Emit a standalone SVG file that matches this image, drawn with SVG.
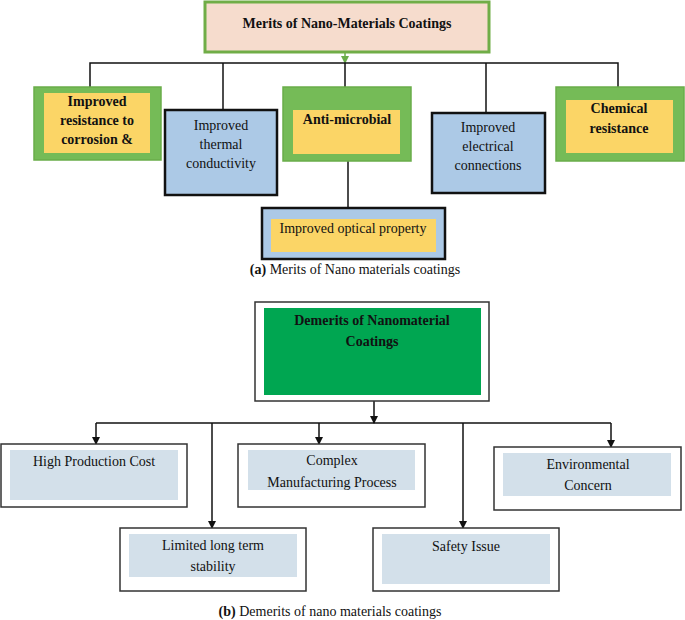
<svg xmlns="http://www.w3.org/2000/svg" width="685" height="620" viewBox="0 0 685 620">
<style>
text{font-family:"Liberation Serif","Times New Roman",serif;font-size:14px;fill:#111;text-anchor:middle}
.b{font-weight:bold}
.gout{fill:#75bb57;stroke:#6aad4a;stroke-width:1.5}
.yel{fill:#fbd566}
.blue{fill:#acc9e6;stroke:#111;stroke-width:2.5}
.wbox{fill:#fff;stroke:#333;stroke-width:1.5}
.lb{fill:#d3e0ea}
.ln{stroke:#111;stroke-width:1.5;fill:none}
</style>
<defs>
<marker id="ar" markerWidth="8" markerHeight="8" refX="7" refY="4" orient="auto" markerUnits="userSpaceOnUse"><path d="M0,0 L8,4 L0,8 z" fill="#111"/></marker>
<marker id="ag" markerWidth="8" markerHeight="8" refX="7" refY="4" orient="auto" markerUnits="userSpaceOnUse"><path d="M0,0 L8,4 L0,8 z" fill="#6aad4a"/></marker>
</defs>
<rect width="685" height="620" fill="#fff"/>
<g id="connectors">
<line x1="345" y1="52" x2="345" y2="63" stroke="#6aad4a" stroke-width="1.5" marker-end="url(#ag)"/>
<polyline class="ln" points="90,88 90,63 618,63 618,88"/>
<line class="ln" x1="223" y1="63" x2="223" y2="110"/>
<line class="ln" x1="345" y1="63" x2="345" y2="87"/>
<line class="ln" x1="486" y1="63" x2="486" y2="113"/>
<line class="ln" x1="348" y1="158" x2="348" y2="207"/>
<line class="ln" x1="374" y1="401" x2="374" y2="423" marker-end="url(#ar)"/>
<line class="ln" x1="96" y1="423" x2="611" y2="423"/>
<line class="ln" x1="96" y1="423" x2="96" y2="444" marker-end="url(#ar)"/>
<line class="ln" x1="212" y1="423" x2="212" y2="528" marker-end="url(#ar)"/>
<line class="ln" x1="319" y1="423" x2="319" y2="444" marker-end="url(#ar)"/>
<line class="ln" x1="463" y1="423" x2="463" y2="528" marker-end="url(#ar)"/>
<line class="ln" x1="611" y1="423" x2="611" y2="447" marker-end="url(#ar)"/>
</g>
<g id="merits">
<rect x="205" y="2" width="284" height="50" fill="#f6dccd" stroke="#70ad47" stroke-width="3"/>
<text class="b" x="347" y="28" font-size="15">Merits of Nano-Materials Coatings</text>
</g>
<g id="corrosion">
<rect class="gout" x="34" y="87" width="127" height="73"/>
<rect class="yel" x="44" y="93" width="106" height="60"/>
<text class="b" x="97" y="106">Improved</text>
<text class="b" x="97" y="125">resistance to</text>
<text class="b" x="97" y="144">corrosion &amp;</text>
</g>
<g id="thermal">
<rect class="blue" x="165" y="110" width="112" height="85"/>
<text x="221" y="130">Improved</text>
<text x="221" y="149">thermal</text>
<text x="221" y="168">conductivity</text>
</g>
<g id="antimicrobial">
<rect class="gout" x="283" y="87" width="128" height="74"/>
<rect class="yel" x="293" y="110" width="107" height="44"/>
<text class="b" x="347" y="124">Anti-microbial</text>
</g>
<g id="optical">
<rect class="blue" x="262" y="208" width="183" height="51"/>
<rect class="yel" x="271" y="219" width="165" height="33"/>
<text x="353" y="233">Improved optical property</text>
</g>
<g id="electrical">
<rect class="blue" x="432" y="113" width="113" height="80"/>
<text x="488" y="132">Improved</text>
<text x="488" y="151">electrical</text>
<text x="488" y="170">connections</text>
</g>
<g id="chemical">
<rect class="gout" x="556" y="87" width="128" height="74"/>
<rect class="yel" x="566" y="100" width="107" height="53"/>
<text class="b" x="619" y="113">Chemical</text>
<text class="b" x="619" y="133">resistance</text>
</g>
<text x="355" y="274" font-size="15"><tspan font-weight="bold">(a)</tspan>  Merits of Nano materials coatings</text>
<g id="demerits">
<rect class="wbox" x="255" y="302" width="234" height="99"/>
<rect x="264" y="308" width="217" height="87" fill="#00a651"/>
<text class="b" x="372" y="325" font-size="15">Demerits of Nanomaterial</text>
<text class="b" x="372" y="346" font-size="15">Coatings</text>
</g>
<g id="cost">
<rect class="wbox" x="1" y="444" width="186" height="63"/>
<rect class="lb" x="10" y="450" width="168" height="50"/>
<text x="94" y="466">High Production Cost</text>
</g>
<g id="complex">
<rect class="wbox" x="238" y="444" width="187" height="63"/>
<rect class="lb" x="248" y="450" width="167" height="40"/>
<text x="332" y="465">Complex</text>
<text x="332" y="487">Manufacturing Process</text>
</g>
<g id="environmental">
<rect class="wbox" x="494" y="447" width="187" height="63"/>
<rect class="lb" x="503" y="453" width="168" height="43"/>
<text x="588" y="469">Environmental</text>
<text x="588" y="490">Concern</text>
</g>
<g id="limited">
<rect class="wbox" x="120" y="528" width="186" height="63"/>
<rect class="lb" x="129" y="534" width="168" height="43"/>
<text x="213" y="550">Limited long term</text>
<text x="213" y="571">stability</text>
</g>
<g id="safety">
<rect class="wbox" x="373" y="528" width="186" height="63"/>
<rect class="lb" x="382" y="534" width="168" height="50"/>
<text x="466" y="551">Safety Issue</text>
</g>
<text x="330" y="616" font-size="15"><tspan font-weight="bold">(b)</tspan>  Demerits of nano materials coatings</text>
</svg>
